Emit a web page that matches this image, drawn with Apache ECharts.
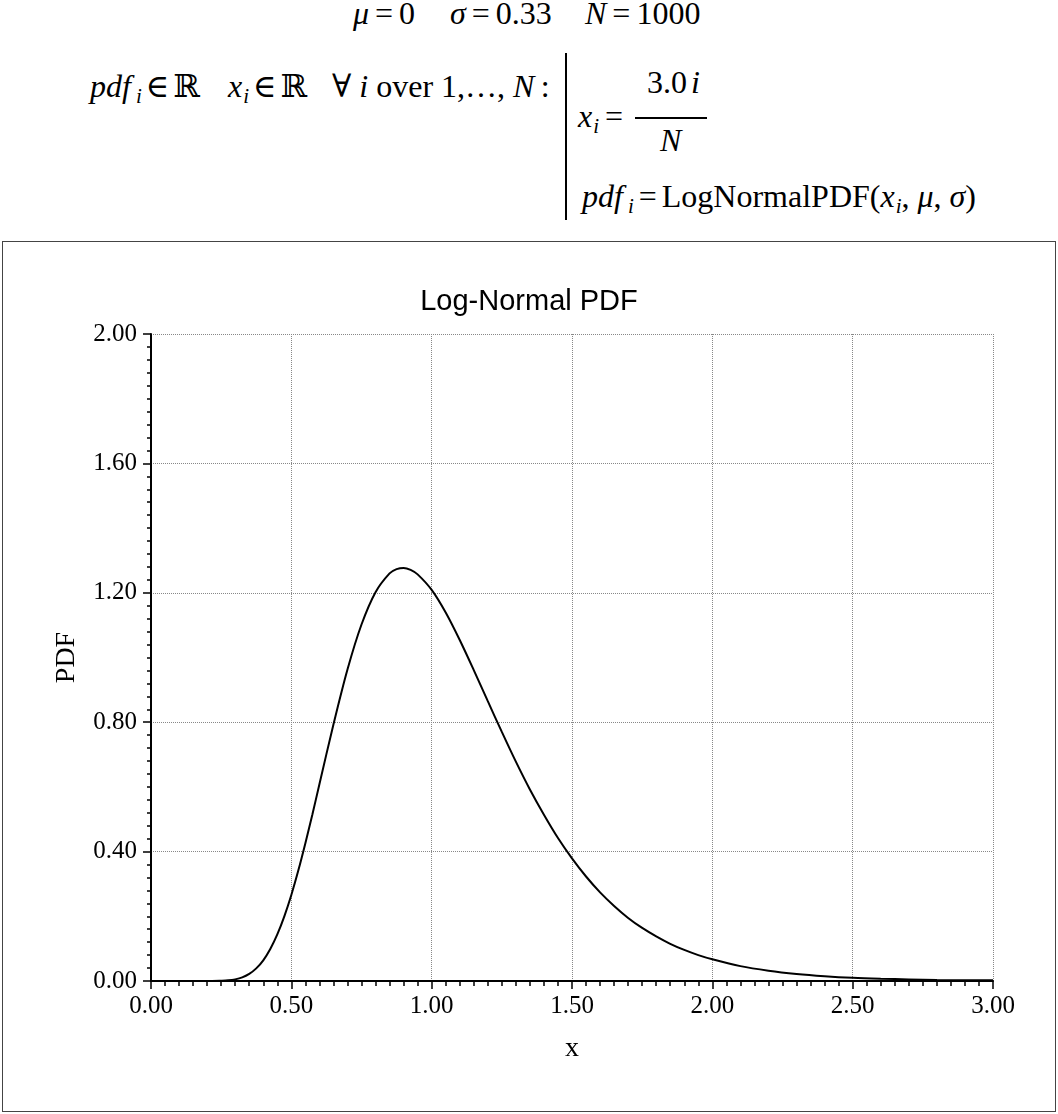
<!DOCTYPE html>
<html>
<head>
<meta charset="utf-8">
<script src="https://cdn.jsdelivr.net/npm/echarts@6/dist/echarts.min.js"></script>
<style>
  html, body { margin: 0; padding: 0; background: #fff; }
  #page { position: relative; width: 1058px; height: 1114px; color: #000; }
  .m { position: absolute; font-family: "Liberation Serif", "DejaVu Serif", serif; font-size: 32px; white-space: nowrap; line-height: 1; }
  .m i { font-style: italic; font-family: "Liberation Serif", serif; }
  .m sub { font-size: 21px; vertical-align: -6px; line-height: 0; margin-left: 1px; }
  .m sub.gap { margin-left: 5px; }
  .m .op { margin: 0 6px; }
  #bar { position: absolute; left: 565px; top: 53px; width: 2px; height: 167px; background: #000; }
  #fracline { position: absolute; left: 635px; top: 117px; width: 72px; height: 2px; background: #000; }
  #box { position: absolute; left: 2px; top: 241px; width: 1052px; height: 869px; border: 1px solid #444; }
  #chart { width: 1052px; height: 869px; }
</style>
</head>
<body>
<div id="page">
  <div class="m" style="left:353px; top:-3px;"><i>μ</i><span class="op">=</span>0</div>
  <div class="m" style="left:450px; top:-3px;"><i>σ</i><span class="op">=</span>0.33</div>
  <div class="m" style="left:585px; top:-3px;"><i>N</i><span class="op">=</span>1000</div>

  <div class="m" style="left:90px; top:70px;"><i>pdf</i><sub class="gap"><i>i</i></sub><span class="op" style="margin:0 4px">∈</span>ℝ</div>
  <div class="m" style="left:228px; top:70px;"><i>x</i><sub><i>i</i></sub><span class="op" style="margin:0 4px">∈</span>ℝ</div>
  <div class="m" style="left:332px; top:70px;">∀ <i>i</i> over 1,…, <i>N</i>&#8201;:</div>

  <div id="bar"></div>
  <div class="m" style="left:647px; top:66px;">3.0<i style="margin-left:4px">i</i></div>
  <div id="fracline"></div>
  <div class="m" style="left:660px; top:124px;"><i>N</i></div>
  <div class="m" style="left:578px; top:100px;"><i>x</i><sub><i>i</i></sub><span class="op" style="margin:0 6px">=</span></div>
  <div class="m" style="left:582px; top:180px;"><i>pdf</i><sub class="gap"><i>i</i></sub><span class="op" style="margin:0 5px">=</span>LogNormalPDF(<i>x</i><sub><i>i</i></sub>, <i>μ</i>, <i>σ</i>)</div>

  <div id="box"><div id="chart"></div></div>
</div>
<script>
// values
var xValues = [0.00, 0.05, 0.10, 0.15, 0.20, 0.25, 0.275, 0.30, 0.325, 0.35, 0.375, 0.40, 0.425, 0.45, 0.475,
  0.50, 0.525, 0.55, 0.575, 0.60, 0.65, 0.70, 0.75, 0.80, 0.85, 0.875, 0.90, 0.925, 0.95,
  1.00, 1.05, 1.10, 1.15, 1.20, 1.25, 1.30, 1.35, 1.40, 1.45,
  1.50, 1.55, 1.60, 1.65, 1.70, 1.75, 1.80, 1.85, 1.90, 1.95,
  2.00, 2.10, 2.20, 2.30, 2.40, 2.50, 2.60, 2.70, 2.80, 2.90, 3.00];
var pdfValues = [0.000, 0.000, 0.000, 0.000, 0.000, 0.001, 0.002, 0.005, 0.011, 0.022, 0.039, 0.064, 0.099, 0.144, 0.200,
  0.266, 0.342, 0.426, 0.515, 0.608, 0.793, 0.963, 1.102, 1.202, 1.260, 1.273, 1.277, 1.271, 1.257,
  1.209, 1.139, 1.054, 0.961, 0.865, 0.770, 0.678, 0.592, 0.514, 0.442,
  0.379, 0.323, 0.274, 0.232, 0.195, 0.164, 0.138, 0.115, 0.096, 0.080,
  0.067, 0.046, 0.032, 0.022, 0.015, 0.010, 0.007, 0.005, 0.003, 0.002, 0.002];
var titleText = "Log-Normal PDF";
var xName = "x";
var yName = "PDF";

var chart = echarts.init(document.getElementById("chart"));
var points = [];
xValues.forEach(function (x, i) {
  points.push([x, pdfValues[i]]);
});

var labelFont = { color: "#000", fontSize: 25, fontFamily: "Liberation Serif" };

var option = {
  animation: false,
  title: {
    text: titleText,
    left: "center",
    top: 40,
    textStyle: { fontFamily: "Liberation Sans", fontWeight: "normal", fontSize: 29, color: "#000" }
  },
  grid: { left: 148, right: 62, top: 92, bottom: 130 },
  xAxis: {
    type: "value",
    min: 0,
    max: 3,
    interval: 0.5,
    name: xName,
    nameLocation: "middle",
    nameGap: 54,
    nameTextStyle: { color: "#000", fontSize: 28, fontFamily: "Liberation Serif" },
    axisLine: { show: true, onZero: false, lineStyle: { color: "#000", width: 2 } },
    axisTick: { show: true, length: 8, lineStyle: { color: "#000", width: 1.5 } },
    minorTick: { show: true, splitNumber: 10, length: 5, lineStyle: { color: "#000", width: 1.5 } },
    axisLabel: Object.assign({ margin: 13, formatter: function (v) { return v.toFixed(2); } }, labelFont),
    splitLine: { show: true, lineStyle: { color: "#888", type: "dotted", width: 1 } }
  },
  yAxis: {
    type: "value",
    min: 0,
    max: 2,
    interval: 0.4,
    name: yName,
    nameLocation: "middle",
    nameRotate: 90,
    nameGap: 70,
    nameTextStyle: { color: "#000", fontSize: 28, fontFamily: "Liberation Serif" },
    axisLine: { show: true, onZero: false, lineStyle: { color: "#000", width: 2 } },
    axisTick: { show: true, length: 8, lineStyle: { color: "#000", width: 1.5 } },
    minorTick: { show: true, splitNumber: 10, length: 4, lineStyle: { color: "#000", width: 1.5 } },
    axisLabel: Object.assign({ margin: 14, formatter: function (v) { return v.toFixed(2); } }, labelFont),
    splitLine: { show: true, lineStyle: { color: "#888", type: "dotted", width: 1 } }
  },
  series: [
    {
      type: "line",
      data: points,
      smooth: 0.3,
      showSymbol: false,
      lineStyle: { color: "#000", width: 2 }
    }
  ]
};
chart.setOption(option);
</script>
</body>
</html>
